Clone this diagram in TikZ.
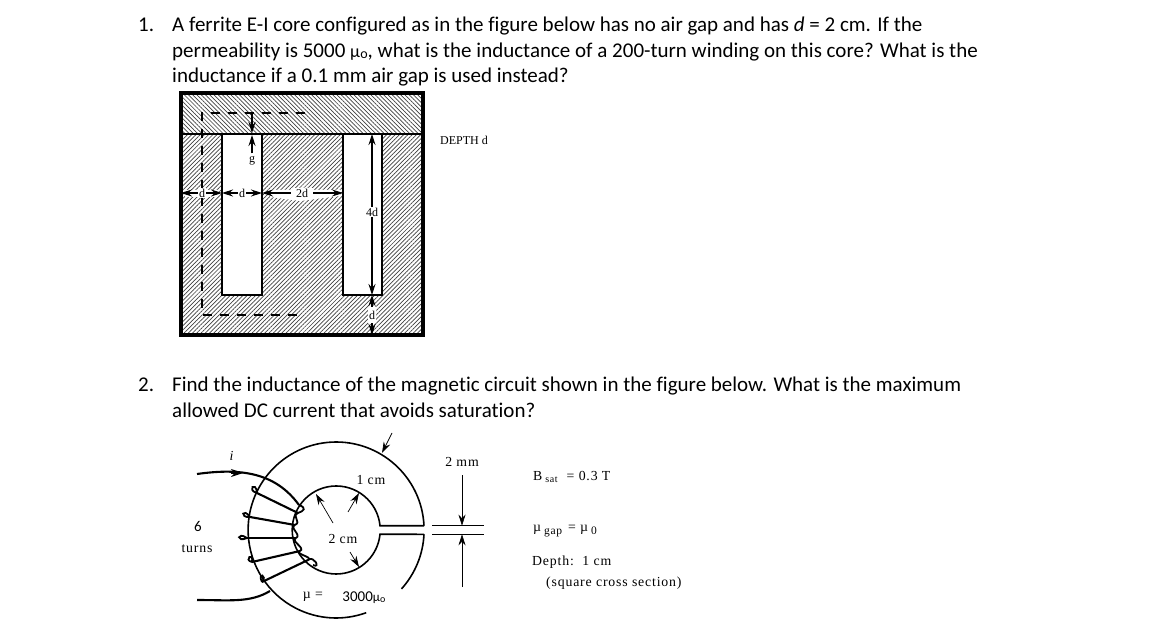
\documentclass[tikz,border=0pt]{standalone}
\usepackage{fontspec}
\setmainfont[Ligatures=NoCommon]{Carlito}
\newfontfamily\figfont[LetterSpace=6]{Liberation Serif}
\newfontfamily\dimfont{Liberation Serif}
\usetikzlibrary{patterns.meta,arrows.meta}
\newcommand{\muzero}{{\fontsize{18}{18}\selectfont µ\kern.3pt\raisebox{-1.5pt}{\fontsize{14}{14}\selectfont o}}}
\begin{document}
\begin{tikzpicture}
  [x=1pt,y=-1pt,
   body/.style={anchor=base west,inner sep=0pt,font=\fontsize{21}{25}\selectfont},
   figlabel/.style={inner sep=0pt,font=\figfont\fontsize{13.8}{16}\selectfont},
   dimlabel/.style={inner sep=1pt,fill=white,font=\dimfont\fontsize{12}{14}\selectfont},
   dimline/.style={-{Stealth[length=11pt,width=7pt]},line width=1.1pt},
   thinline/.style={-{Stealth[length=11pt,width=7pt]},line width=.7pt},
   window/.style={draw,fill=white,line width=2.8pt},
   outline/.style={line width=1.6pt},
   wire/.style={line width=2.1pt},
   curl/.style={line width=1.8pt}]
  \useasboundingbox (0,0) rectangle (1170,636);

  % question text
  \node[body] (q1) at (138,31.5) {1.};
  \node[body] (q1a) at (172,31.5) {A ferrite E-I core configured as in the figure below has no air gap and has \textit{d} = 2 cm. If the};
  \node[body] (q1b) at (172,57.5) {permeability is 5000 \muzero, what is the inductance of a 200-turn winding on this core? What is the};
  \node[body] (q1c) at (172,83) {inductance if a 0.1 mm air gap is used instead?};
  \node[body] (q2) at (138,391) {2.};
  \node[body] (q2a) at (172,391) {Find the inductance of the magnetic circuit shown in the figure below. What is the maximum};
  \node[body] (q2b) at (172,417) {allowed DC current that avoids saturation?};

  % E-I core
  \fill[white] (181,93) rectangle (423,335);
  \path[pattern={Lines[angle=-45,distance=3pt,line width=.7pt]},pattern color=black!75] (181,93) rectangle (423,134);
  \path[pattern={Lines[angle=45,distance=3pt,line width=.7pt]},pattern color=black!75] (181,134) rectangle (423,335);
  \draw[window] (222,134) rectangle (262,295);
  \draw[window] (343,134) rectangle (382,295);
  \draw[line width=2.8pt] (181,134) -- (423,134);
  \draw[line width=3.6pt] (181,93) rectangle (423,335);
  \draw[line width=2pt,dash pattern=on 9pt off 8pt] (305,113) -- (202,113) -- (202,315) -- (300,315);

  % dimensions of the core
  \fill[white] (270,190) -- (340,190) -- (340,196) -- (300,201) -- (270,197) -- cycle;
  \fill[white] (185,190) rectangle (218,197);
  \coordinate (w0) at (181,193);
  \coordinate (w1) at (222,193);
  \coordinate (w2) at (262,193);
  \coordinate (w3) at (343,193);
  \coordinate (t1) at (372,134);
  \coordinate (t2) at (372,295);
  \coordinate (t3) at (372,335);
  \coordinate (g1) at (252,113);
  \coordinate (g2) at (252,133);
  \coordinate (g3) at (252,135);
  \node[dimlabel] (dA) at (202,193) {d};
  \node[dimlabel] (dB) at (242,193) {d};
  \node[dimlabel,inner xsep=5pt] (dC) at (302,193) {2d};
  \node[dimlabel] (dD) at (372,212) {4d};
  \node[dimlabel,inner ysep=4pt] (dE) at (372,315) {d};
  \node[dimlabel,fill=none,inner sep=3pt] (dG) at (252,161) {g};
  \foreach \from/\to in {dA/w0,dA/w1,dB/w1,dB/w2,dC/w2,dC/w3,dD/t1,dD/t2,dE/t2,dE/t3,g1/g2,dG/g3}
    \draw[dimline] (\from) -- (\to);
  \node[dimlabel,fill=none,font=\dimfont\fontsize{12}{14}\selectfont] (depth) at (464,140) {DEPTH d};

  % magnetic circuit
  \coordinate (c) at (336,530);
  \draw[outline] (424,525.7) arc[start angle=-2.8,end angle=-290,radius=88];
  \draw[outline] (424,534.3) arc[start angle=-357.2,end angle=-318,radius=88];
  \draw[outline] (424,525.7) -- (380,525.7) arc[start angle=-5.6,end angle=-354.4,radius=44] -- (424,534.3);

  % winding
  \coordinate (a) at (197,474);
  \coordinate (b) at (197,600);
  \coordinate (i0) at (299,505);
  \foreach \n/\xo/\yo/\xi/\yi in {1/257/493/298/513,2/250/517/295/525,3/247/538/296/538,4/252/562/300/551,5/262/582/308/560}{
    \coordinate (o\n) at (\xo,\yo);
    \coordinate (i\n) at (\xi,\yi);
  }
  \coordinate (o6) at (270,591);
  \draw[wire] (a) .. controls (240,468) and (275,472) .. (i0);
  \draw[wire] (o6) .. controls (250,603) and (230,600) .. (b);
  \foreach \from/\to in {o1/i1,o2/i2,o3/i3,o4/i4,o5/i5}
    \draw[wire] (\from) -- (\to);
  \draw[-{Stealth[length=12pt,width=8pt]},line width=1pt] (a) ++(34,-1) -- ++(12,0);
  \foreach \from/\to/\ax/\ay/\bx/\by in {i0/i1/8/3/6/-2,i1/i2/-7/3/7/-3,i2/i3/-6/3/6/-3,i3/i4/-6/3/6/-3,i4/i5/-6/3/6/-3}
    \draw[curl] (\from) .. controls +(\ax,\ay) and +(\bx,\by) .. (\to);
  \draw[curl] (i5) .. controls +(6,-5) and +(8,4) .. (313,565);
  \foreach \n/\ax/\ay/\bx/\by in {o1/-11/-3/-1/-13,o2/-11/1/-7/-10,o3/-11/5/-10/-7,o4/-9/-2/2/-11,o5/-5/-10/6/-7}
    \draw[curl] (\n) .. controls +(\ax,\ay) and +(\bx,\by) .. (\n);

  % dimensions of the circuit
  \coordinate (r1a) at (348,512);
  \coordinate (r1b) at (359,493);
  \coordinate (r2a) at (333,523);
  \coordinate (r2b) at (316,494);
  \coordinate (r3a) at (350,552);
  \coordinate (r3b) at (359,567);
  \coordinate (p1) at (392,433);
  \coordinate (p2) at (382,453);
  \coordinate (h1) at (462,475);
  \coordinate (h2) at (462,525.7);
  \coordinate (h3) at (462,587);
  \coordinate (h4) at (462,534.3);
  \coordinate (l1) at (432,525.7);
  \coordinate (l2) at (484,525.7);
  \coordinate (l3) at (432,534.3);
  \coordinate (l4) at (484,534.3);
  \foreach \from/\to in {r1a/r1b,r2a/r2b,r3a/r3b,p1/p2,h1/h2,h3/h4}
    \draw[thinline] (\from) -- (\to);
  \foreach \from/\to in {l1/l2,l3/l4}
    \draw[line width=.9pt] (\from) -- (\to);

  % labels of the circuit
  \node[figlabel] (cur) at (232,456) {\textit{i}};
  \node[inner sep=0pt,font=\fontsize{15}{17}\selectfont] (six) at (198,526) {6};
  \node[figlabel] (turns) at (197,549) {turns};
  \node[figlabel] (oneCm) at (371,480) {1 cm};
  \node[figlabel] (twoCm) at (343,539) {2 cm};
  \node[figlabel] (twoMm) at (462,462) {2 mm};
  \node[figlabel] (muEq) at (313,597) {µ =};
  \node[inner sep=0pt,font=\fontsize{15}{17}\selectfont] (muVal) at (364,598) {3000{\fontsize{13}{13}\selectfont µ\kern.2pt\raisebox{-1pt}{\fontsize{10}{10}\selectfont o}}};
  \node[figlabel,anchor=base west] (bsat) at (533,480) {B\hspace{3pt}\raisebox{-2pt}{\fontsize{10}{10}\selectfont sat}\hspace{9pt}= 0.3 T};
  \node[figlabel,anchor=base west] (mugap) at (533,531) {µ\hspace{3pt}\raisebox{-3pt}{\fontsize{11.5}{11}\selectfont gap}\hspace{6pt}= µ\hspace{3pt}\raisebox{-3pt}{\fontsize{11.5}{11}\selectfont 0}};
  \node[figlabel,anchor=base west] (dep) at (532,565) {Depth:\ \ 1 cm};
  \node[figlabel,anchor=base west] (sec) at (546,586) {(square cross section)};
\end{tikzpicture}
\end{document}
